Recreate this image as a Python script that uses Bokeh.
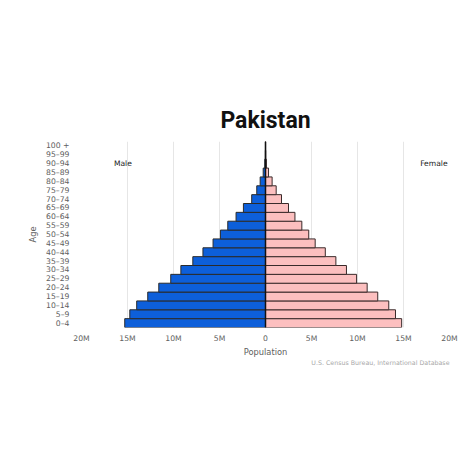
from bokeh.plotting import figure
from bokeh.models import FactorRange, FixedTicker, CustomJSTickFormatter, Title, Span
from bokeh.core.properties import value
from bokeh.embed import file_html
from bokeh.resources import INLINE

ages = ["0–4", "5–9", "10–14", "15–19", "20–24", "25–29", "30–34", "35–39", "40–44",
        "45–49", "50–54", "55–59", "60–64", "65–69", "70–74", "75–79", "80–84",
        "85–89", "90–94", "95–99", "100 +"]
male = [15.3, 14.75, 14.0, 12.8, 11.6, 10.3, 9.2, 7.9, 6.8, 5.7, 4.9, 4.1, 3.2, 2.4,
        1.5, 0.95, 0.58, 0.25, 0.08, 0.02, 0.005]
female = [14.8, 14.13, 13.4, 12.2, 11.05, 9.9, 8.8, 7.65, 6.5, 5.4, 4.7, 3.95, 3.2, 2.5,
          1.74, 1.16, 0.72, 0.33, 0.1, 0.03, 0.007]
x_ticks = [-20, -15, -10, -5, 0, 5, 10, 15, 20]
sex_labels = ["Male", "Female"]
sex_label_x = [-15.5, 18.3]
sex_label_row = ["90–94", "90–94"]
source_text = "U.S. Census Bureau, International Database"

male_left = [-v for v in male]
zeros = [0] * len(ages)

p = figure(width=466, height=466, output_backend="svg", toolbar_location=None,
           y_range=FactorRange(*ages, range_padding=0), x_range=(-20, 20),
           min_border_left=81, min_border_right=17, min_border_top=141, min_border_bottom=139)

p.hbar(y=ages, left=male_left, right=zeros, height=1, fill_color="#0d5fda",
       line_color="#2b2b2b", line_width=1)
p.hbar(y=ages, left=zeros, right=female, height=1, fill_color="#fcbfbf",
       line_color="#3a2a2a", line_width=1)
p.add_layout(Span(location=0, dimension="height", line_color="#111111", line_width=1.5))

p.text(x=sex_label_x, y=sex_label_row, text=sex_labels, text_align="center",
       text_baseline="middle", text_font=value("DejaVu Sans"), text_font_size="7.6px",
       text_color="#1a1a1a")

p.add_layout(Title(text=source_text, align="right", text_font="DejaVu Sans",
                   text_font_size="6.3px", text_color="#a8a8a8", text_font_style="normal",
                   standoff=-6), "below")

p.title.text = "Pakistan"
p.title.align = "center"
p.title.text_font = "Roboto"
p.title.text_font_style = "bold"
p.title.text_font_size = "23px"
p.title.text_color = "#111111"
p.title.standoff = 15

p.xaxis.ticker = FixedTicker(ticks=x_ticks)
p.xaxis.formatter = CustomJSTickFormatter(code="return tick == 0 ? '0' : Math.abs(tick) + 'M';")
p.xaxis.axis_label = "Population"
p.yaxis.axis_label = "Age"
for ax in (p.xaxis[0], p.yaxis[0]):
    ax.axis_line_color = None
    ax.major_tick_line_color = None
    ax.minor_tick_line_color = None
    ax.major_tick_out = 0
    ax.major_tick_in = 0
    ax.minor_tick_out = 0
    ax.minor_tick_in = 0
    ax.major_label_text_font = "DejaVu Sans"
    ax.major_label_text_font_size = "7.7px"
    ax.major_label_text_color = "#606060"
    ax.axis_label_text_font = "DejaVu Sans"
    ax.axis_label_text_font_size = "8.3px"
    ax.axis_label_text_font_style = "normal"
    ax.axis_label_text_color = "#606060"
p.xaxis.major_label_standoff = 6
p.yaxis.major_label_standoff = 12
p.xaxis.axis_label_standoff = 1
p.yaxis.axis_label_standoff = 5

p.xgrid.ticker = FixedTicker(ticks=[-20, -15, -10, -5, 5, 10, 15, 20])
p.xgrid.grid_line_color = "#e6e6e6"
p.ygrid.grid_line_color = None
p.outline_line_color = None

open("out.html", "w").write(file_html(p, INLINE))
